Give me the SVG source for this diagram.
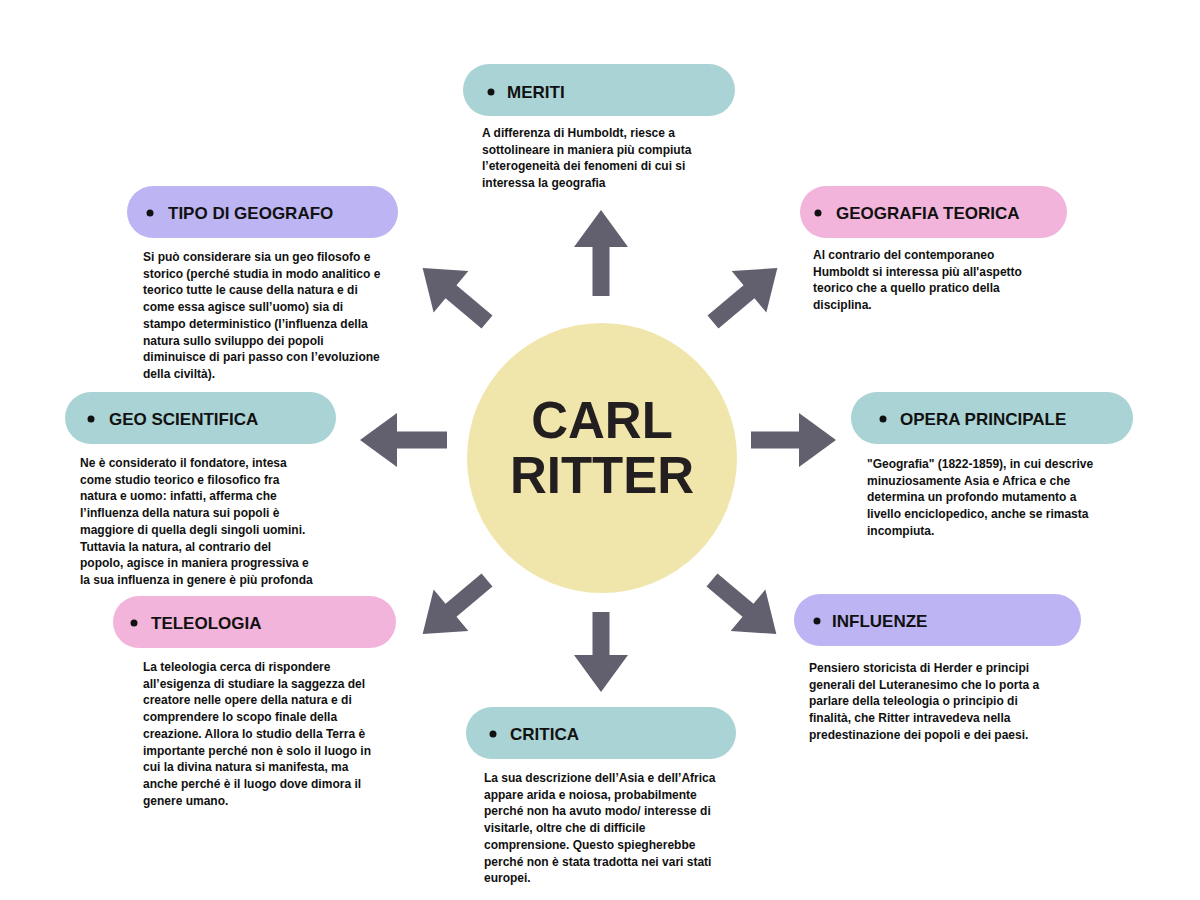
<svg xmlns="http://www.w3.org/2000/svg" width="1200" height="900" viewBox="0 0 1200 900">
<style>
.h{font-family:"Liberation Sans",Arial,sans-serif;font-weight:bold;font-size:17px;fill:#111}
.b{font-family:"Liberation Sans",Arial,sans-serif;font-weight:bold;font-size:12px;fill:#111}
.teal{fill:#a9d3d4}.lav{fill:#bdb5f3}.pink{fill:#f2b4da}
.arr{fill:#625f6e}
</style>
<defs>
<polygon id="a" points="0,-8.5 0,8.5 1,8.5 1,-8.5"/>
</defs>
<rect width="1200" height="900" fill="#fff"/>
<g id="center">
<circle cx="602" cy="458" r="135" fill="#f0e6ac"/>
<text x="602" y="438" text-anchor="middle" font-family="Liberation Sans,Arial,sans-serif" font-weight="bold" font-size="51" fill="#231f20">CARL</text>
<text x="602" y="493" text-anchor="middle" font-family="Liberation Sans,Arial,sans-serif" font-weight="bold" font-size="51" fill="#231f20">RITTER</text>
</g>
<g id="connectors" class="arr">
<polygon transform="translate(601,296) rotate(-90)" points="0,-8.5 49,-8.5 49,-27 86,0 49,27 49,8.5 0,8.5"/>
<polygon transform="translate(447,440) rotate(180)" points="0,-8.5 50,-8.5 50,-27 87,0 50,27 50,8.5 0,8.5"/>
<polygon transform="translate(751,440)" points="0,-8.5 48,-8.5 48,-27 85,0 48,27 48,8.5 0,8.5"/>
<polygon transform="translate(601,612) rotate(90)" points="0,-8.5 43,-8.5 43,-27 80,0 43,27 43,8.5 0,8.5"/>
<polygon transform="translate(487,322) rotate(-140)" points="0,-8.5 47,-8.5 47,-27 84,0 47,27 47,8.5 0,8.5"/>
<polygon transform="translate(713,322) rotate(-40)" points="0,-8.5 47,-8.5 47,-27 84,0 47,27 47,8.5 0,8.5"/>
<polygon transform="translate(487,580) rotate(140)" points="0,-8.5 47,-8.5 47,-27 84,0 47,27 47,8.5 0,8.5"/>
<polygon transform="translate(712,580) rotate(40)" points="0,-8.5 47,-8.5 47,-27 84,0 47,27 47,8.5 0,8.5"/>
</g>
<g id="meriti">
<rect x="463" y="64" width="272" height="52" rx="26" class="teal"/>
<circle cx="491" cy="92" r="3.5" fill="#111"/>
<text x="507" y="98" class="h">MERITI</text>
<text class="b"><tspan x="482" y="137">A differenza di Humboldt, riesce a</tspan><tspan x="482" dy="16.7">sottolineare in maniera più compiuta</tspan><tspan x="482" dy="16.7">l’eterogeneità dei fenomeni di cui si</tspan><tspan x="482" dy="16.7">interessa la geografia</tspan></text>
</g>
<g id="tipo">
<rect x="127" y="186" width="271" height="52" rx="26" class="lav"/>
<circle cx="150" cy="213" r="3.5" fill="#111"/>
<text x="168" y="219" class="h">TIPO DI GEOGRAFO</text>
<text class="b"><tspan x="143" y="261">Si può considerare sia un geo filosofo e</tspan><tspan x="143" dy="16.7">storico (perché studia in modo analitico e</tspan><tspan x="143" dy="16.7">teorico tutte le cause della natura e di</tspan><tspan x="143" dy="16.7">come essa agisce sull’uomo) sia di</tspan><tspan x="143" dy="16.7">stampo deterministico (l’influenza della</tspan><tspan x="143" dy="16.7">natura sullo sviluppo dei popoli</tspan><tspan x="143" dy="16.7">diminuisce di pari passo con l’evoluzione</tspan><tspan x="143" dy="16.7">della civiltà).</tspan></text>
</g>
<g id="teorica">
<rect x="800" y="186" width="267" height="52" rx="26" class="pink"/>
<circle cx="818" cy="213" r="3.5" fill="#111"/>
<text x="836" y="219" class="h">GEOGRAFIA TEORICA</text>
<text class="b"><tspan x="813" y="259">Al contrario del contemporaneo</tspan><tspan x="813" dy="16.7">Humboldt si interessa più all'aspetto</tspan><tspan x="813" dy="16.7">teorico che a quello pratico della</tspan><tspan x="813" dy="16.7">disciplina.</tspan></text>
</g>
<g id="scientifica">
<rect x="65" y="392" width="271" height="52" rx="26" class="teal"/>
<circle cx="91" cy="419" r="3.5" fill="#111"/>
<text x="109" y="425" class="h">GEO SCIENTIFICA</text>
<text class="b"><tspan x="80" y="467">Ne è considerato il fondatore, intesa</tspan><tspan x="80" dy="16.7">come studio teorico e filosofico fra</tspan><tspan x="80" dy="16.7">natura e uomo: infatti, afferma che</tspan><tspan x="80" dy="16.7">l’influenza della natura sui popoli è</tspan><tspan x="80" dy="16.7">maggiore di quella degli singoli uomini.</tspan><tspan x="80" dy="16.7">Tuttavia la natura, al contrario del</tspan><tspan x="80" dy="16.7">popolo, agisce in maniera progressiva e</tspan><tspan x="80" dy="16.7">la sua influenza in genere è più profonda</tspan></text>
</g>
<g id="opera">
<rect x="851" y="392" width="282" height="52" rx="26" class="teal"/>
<circle cx="883" cy="419" r="3.5" fill="#111"/>
<text x="900" y="425" class="h">OPERA PRINCIPALE</text>
<text class="b"><tspan x="867" y="468">"Geografia" (1822-1859), in cui descrive</tspan><tspan x="867" dy="16.7">minuziosamente Asia e Africa e che</tspan><tspan x="867" dy="16.7">determina un profondo mutamento a</tspan><tspan x="867" dy="16.7">livello enciclopedico, anche se rimasta</tspan><tspan x="867" dy="16.7">incompiuta.</tspan></text>
</g>
<g id="teleologia">
<rect x="113" y="596" width="283" height="52" rx="26" class="pink"/>
<circle cx="134" cy="623" r="3.5" fill="#111"/>
<text x="151" y="629" class="h">TELEOLOGIA</text>
<text class="b"><tspan x="143" y="671">La teleologia cerca di rispondere</tspan><tspan x="143" dy="16.7">all’esigenza di studiare la saggezza del</tspan><tspan x="143" dy="16.7">creatore nelle opere della natura e di</tspan><tspan x="143" dy="16.7">comprendere lo scopo finale della</tspan><tspan x="143" dy="16.7">creazione. Allora lo studio della Terra è</tspan><tspan x="143" dy="16.7">importante perché non è solo il luogo in</tspan><tspan x="143" dy="16.7">cui la divina natura si manifesta, ma</tspan><tspan x="143" dy="16.7">anche perché è il luogo dove dimora il</tspan><tspan x="143" dy="16.7">genere umano.</tspan></text>
</g>
<g id="influenze">
<rect x="794" y="594" width="287" height="52" rx="26" class="lav"/>
<circle cx="817" cy="621" r="3.5" fill="#111"/>
<text x="832" y="627" class="h">INFLUENZE</text>
<text class="b"><tspan x="809" y="672">Pensiero storicista di Herder e principi</tspan><tspan x="809" dy="16.7">generali del Luteranesimo che lo porta a</tspan><tspan x="809" dy="16.7">parlare della teleologia o principio di</tspan><tspan x="809" dy="16.7">finalità, che Ritter intravedeva nella</tspan><tspan x="809" dy="16.7">predestinazione dei popoli e dei paesi.</tspan></text>
</g>
<g id="critica">
<rect x="466" y="707" width="270" height="52" rx="26" class="teal"/>
<circle cx="493" cy="734" r="3.5" fill="#111"/>
<text x="510" y="740" class="h">CRITICA</text>
<text class="b"><tspan x="484" y="782">La sua descrizione dell’Asia e dell’Africa</tspan><tspan x="484" dy="16.7">appare arida e noiosa, probabilmente</tspan><tspan x="484" dy="16.7">perché non ha avuto modo/ interesse di</tspan><tspan x="484" dy="16.7">visitarle, oltre che di difficile</tspan><tspan x="484" dy="16.7">comprensione. Questo spiegherebbe</tspan><tspan x="484" dy="16.7">perché non è stata tradotta nei vari stati</tspan><tspan x="484" dy="16.7">europei.</tspan></text>
</g>
</svg>
